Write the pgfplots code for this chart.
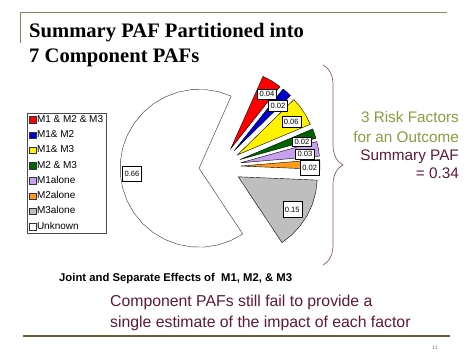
\documentclass[border=0pt]{standalone}
\usepackage{pgfplots}
\pgfplotsset{compat=1.18}
\usepackage{fontspec}
\setmainfont{Liberation Sans}
\newfontfamily\titlefont{Liberation Serif}
\usetikzlibrary{decorations.pathreplacing}
\definecolor{rulecol}{HTML}{8A8060}
\definecolor{botrule}{HTML}{6E5D35}
\definecolor{olivetxt}{HTML}{8A9B42}
\definecolor{maroontxt}{HTML}{5E1838}
\definecolor{bracecol}{HTML}{8B5A7A}
\definecolor{pgreen}{HTML}{006400}
\definecolor{pblue}{HTML}{0000CD}
\definecolor{ppurple}{HTML}{C8A0F0}
\definecolor{porange}{HTML}{FF9A1A}
\definecolor{pgray}{HTML}{BEBEBE}
\begin{document}
\begin{tikzpicture}
\useasboundingbox (0,0) rectangle (474pt,355pt);
\begin{axis}[
  x=1pt, y=1pt, xmin=0, xmax=474, ymin=0, ymax=355,
  hide axis, clip=false,
  legend image code/.code={\draw[#1,draw=black!80,line width=0.4pt] (0pt,-3.2pt) rectangle (6.4pt,3.2pt);},
  legend style={at={(axis cs:27,242)}, anchor=north west, draw=black!70,
    font=\fontsize{10}{12}\selectfont, inner xsep=2pt, inner ysep=1pt,
    row sep=4.3pt, cells={anchor=west},
    nodes={inner sep=1pt, text height=7pt, text depth=2pt}},
]
% pie slices: values 0.04, 0.02, 0.06, 0.02, 0.03, 0.02, 0.15, 0.66 (clockwise from 66 deg)
\addplot[forget plot, fill=red, draw=black, line width=0.4pt, data cs=polar, xshift=230.88pt, yshift=206.46pt]
  coordinates {(0,0) (66,79) (58.8,79) (51.6,79)} -- cycle;
\addplot[forget plot, fill=pblue, draw=black, line width=0.4pt, data cs=polar, xshift=234.05pt, yshift=204.11pt]
  coordinates {(0,0) (51.6,79) (48,79) (44.4,79)} -- cycle;
\addplot[forget plot, fill=yellow, draw=black, line width=0.4pt, data cs=polar, xshift=237.49pt, yshift=200.12pt]
  coordinates {(0,0) (44.4,79) (37.2,79) (30,79) (22.8,79)} -- cycle;
\addplot[forget plot, fill=pgreen, draw=black, line width=0.4pt, data cs=polar, xshift=239.83pt, yshift=195.41pt]
  coordinates {(0,0) (22.8,79) (19.2,79) (15.6,79)} -- cycle;
\addplot[forget plot, fill=ppurple, draw=black, line width=0.4pt, data cs=polar, xshift=240.67pt, yshift=192.22pt]
  coordinates {(0,0) (15.6,79) (10.2,79) (4.8,79)} -- cycle;
\addplot[forget plot, fill=porange, draw=black, line width=0.4pt, data cs=polar, xshift=241.0pt, yshift=188.94pt]
  coordinates {(0,0) (4.8,79) (1.2,79) (-2.4,79)} -- cycle;
\addplot[forget plot, fill=pgray, draw=black, line width=0.4pt, data cs=polar, xshift=238.30pt, yshift=178.19pt]
  coordinates {(0,0) (-2.4,79) (-11.4,79) (-20.4,79) (-29.4,79) (-38.4,79) (-47.4,79) (-56.4,79)} -- cycle;
\addplot[forget plot, fill=white, draw=black!80, line width=0.4pt, data cs=polar, xshift=199.07pt, yshift=186.74pt]
  coordinates {(0,0) (66,79) (75.9,79) (85.8,79) (95.7,79) (105.6,79) (115.5,79) (125.4,79) (135.3,79)
   (145.2,79) (155.1,79) (165,79) (174.9,79) (184.8,79) (194.7,79) (204.6,79) (214.5,79) (224.4,79)
   (234.3,79) (244.2,79) (254.1,79) (264,79) (273.9,79) (283.8,79) (293.7,79) (303.6,79)} -- cycle;
% legend
\addlegendimage{fill=red}\addlegendentry{M1 \& M2 \& M3}
\addlegendimage{fill=pblue}\addlegendentry{M1\& M2}
\addlegendimage{fill=yellow}\addlegendentry{M1\& M3}
\addlegendimage{fill=pgreen}\addlegendentry{M2 \& M3}
\addlegendimage{fill=ppurple}\addlegendentry{M1alone}
\addlegendimage{fill=porange}\addlegendentry{M2alone}
\addlegendimage{fill=pgray}\addlegendentry{M3alone}
\addlegendimage{fill=white}\addlegendentry{Unknown}
% slice labels
\tikzset{lbl/.style={draw=black, fill=white, line width=0.5pt, font=\fontsize{7.6}{8}\selectfont, inner xsep=0.5pt, inner ysep=0.5pt, minimum width=19pt}}
\node[lbl, minimum height=10pt] at (axis cs:267,260.7) {0.04};
\node[lbl, minimum height=11.5pt] at (axis cs:278,249) {0.02};
\node[lbl, minimum height=11pt] at (axis cs:291.3,233.5) {0.06};
\node[lbl, minimum height=9.5pt] at (axis cs:302,213) {0.02};
\node[lbl, minimum height=10pt] at (axis cs:305,200.7) {0.03};
\node[lbl, minimum height=15pt] at (axis cs:309.7,187.5) {0.02};
\node[lbl, minimum height=16pt] at (axis cs:292.3,145.3) {0.15};
\node[lbl, minimum height=15.5pt] at (axis cs:132,181) {0.66};
% slide decorations
\draw[rulecol, line width=0.9pt] (axis cs:20,312) -- (axis cs:20,343) -- (axis cs:447,343);
\draw[botrule, line width=1.4pt] (axis cs:23,19) -- (axis cs:450,19);
\node[anchor=base, font=\fontsize{5}{6}\selectfont, text=black!60] at (axis cs:435,5) {11};
\node[anchor=base west, inner sep=0pt, font=\titlefont\bfseries\fontsize{20.6}{24}\selectfont] at (axis cs:29,317) {Summary PAF Partitioned into};
\node[anchor=base west, inner sep=0pt, font=\titlefont\bfseries\fontsize{20.6}{24}\selectfont] at (axis cs:29,292) {7 Component PAFs};
\draw[bracecol, line width=0.7pt, decorate, decoration={brace, amplitude=20pt}] (axis cs:323,290) -- (axis cs:323,90);
\node[anchor=base east, inner sep=0pt, text=olivetxt, font=\fontsize{15.3}{18}\selectfont] at (axis cs:459,232) {3 Risk Factors};
\node[anchor=base east, inner sep=0pt, text=olivetxt, font=\fontsize{15.3}{18}\selectfont] at (axis cs:459,212) {for an Outcome};
\node[anchor=base east, inner sep=0pt, text=maroontxt, font=\fontsize{15.3}{18}\selectfont] at (axis cs:459,194) {Summary PAF};
\node[anchor=base east, inner sep=0pt, text=maroontxt, font=\fontsize{15.3}{18}\selectfont] at (axis cs:459,176) {= 0.34};
\node[anchor=base west, inner sep=0pt, font=\bfseries\fontsize{11.3}{13}\selectfont] at (axis cs:59,73) {Joint and Separate Effects of\ \ M1, M2, \& M3};
\node[anchor=base west, inner sep=0pt, text=maroontxt, font=\fontsize{15.8}{18}\selectfont] at (axis cs:110,48) {Component PAFs still fail to provide a};
\node[anchor=base west, inner sep=0pt, text=maroontxt, font=\fontsize{15.8}{18}\selectfont] at (axis cs:110,27) {single estimate of the impact of each factor};
\end{axis}
\end{tikzpicture}
\end{document}
